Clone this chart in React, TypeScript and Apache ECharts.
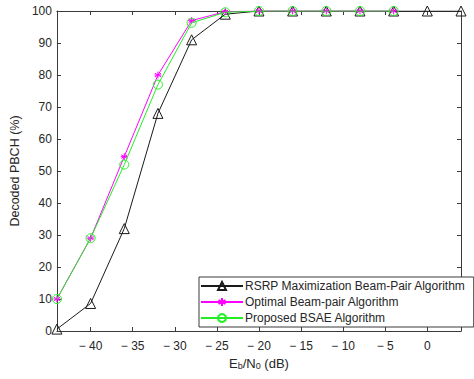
import React, { useEffect, useRef } from "react";
import * as echarts from "echarts";

const xValues = [-44, -40, -36, -32, -28, -24, -20, -16, -12, -8, -4, 0, 4];
const rsrpValues = [0.6, 8.6, 32, 68, 91, 99, 100, 100, 100, 100, 100, 100, 100];
const optimalValues = [10, 29, 54.5, 80, 97, 99.8, 100, 100, 100, 100, 100];
const proposedValues = [10, 29, 52, 77, 96.3, 99.6, 100, 100, 100, 100, 100];
const xTickValues = [-40, -35, -30, -25, -20, -15, -10, -5, 0];
const seriesNames = [
  "RSRP Maximization Beam-Pair Algorithm",
  "Optimal Beam-pair Algorithm",
  "Proposed BSAE Algorithm",
];

const FONT = "Liberation Sans, Arial, sans-serif";
const AXIS_COLOR = "#3a3a3a";
const TEXT_COLOR = "#262626";
const ASTERISK =
  "path://M0,-10 L0,10 M-8.66,-5 L8.66,5 M-8.66,5 L8.66,-5 M-10,0 L10,0";

function pairs(values: number[]) {
  return values.map((v, i) => [xValues[i], v]);
}

export default function App() {
  const ref = useRef<HTMLDivElement>(null);
  useEffect(() => {
    if (!ref.current) return;
    const chart = echarts.init(ref.current, undefined, { renderer: "svg" });
    const fmt = (v: number) => (v < 0 ? "\u2212 " + Math.abs(v) : String(v));
    const xCommon = {
      type: "value" as const,
      min: -44,
      max: 4,
      splitLine: { show: false },
      axisLine: { show: true, onZero: false, lineStyle: { color: AXIS_COLOR, width: 1 } },
      axisTick: {
        show: true,
        inside: true,
        length: 4,
        customValues: xTickValues,
        lineStyle: { color: AXIS_COLOR },
      },
    };
    const yCommon = {
      type: "value" as const,
      min: 0,
      max: 100,
      interval: 10,
      splitLine: { show: false },
      axisLine: { show: true, onZero: false, lineStyle: { color: AXIS_COLOR, width: 1 } },
      axisTick: { show: true, inside: true, length: 4, lineStyle: { color: AXIS_COLOR } },
    };
    chart.setOption({
      animation: false,
      backgroundColor: "#fff",
      textStyle: { fontFamily: FONT },
      grid: { left: 51, right: 13, top: 11, bottom: 48, containLabel: false },
      xAxis: [
        {
          ...xCommon,
          position: "bottom",
          axisLabel: {
            show: true,
            customValues: xTickValues,
            formatter: fmt,
            color: TEXT_COLOR,
            fontSize: 12,
            fontFamily: FONT,
            margin: 9,
          },
          name: "{n|E}{s|b}{n|/N}{s|0}{n| (dB)}",
          nameLocation: "middle",
          nameGap: 24,
          nameTextStyle: {
            color: TEXT_COLOR,
            fontFamily: FONT,
            rich: {
              n: { fontSize: 13, fontFamily: FONT, color: TEXT_COLOR },
              s: {
                fontSize: 9,
                fontFamily: FONT,
                color: TEXT_COLOR,
                verticalAlign: "bottom",
                padding: [6, 0, 0, 0],
              },
            },
          },
        },
        {
          ...xCommon,
          position: "top",
          axisLabel: { show: false },
        },
      ],
      yAxis: [
        {
          ...yCommon,
          position: "left",
          axisLabel: {
            show: true,
            color: TEXT_COLOR,
            fontSize: 12,
            fontFamily: FONT,
            margin: 5,
          },
          name: "Decoded PBCH (%)",
          nameLocation: "middle",
          nameGap: 29,
          nameRotate: 90,
          nameTextStyle: { color: TEXT_COLOR, fontSize: 12.5, fontFamily: FONT },
        },
        {
          ...yCommon,
          position: "right",
          axisLabel: { show: false },
        },
      ],
      legend: {
        orient: "vertical",
        left: 199,
        top: 277,
        backgroundColor: "#fff",
        borderColor: AXIS_COLOR,
        borderWidth: 1,
        borderRadius: 0,
        padding: [3, 8, 3, 1],
        itemGap: 4,
        itemWidth: 42,
        itemHeight: 10,
        textStyle: { color: TEXT_COLOR, fontSize: 12, fontFamily: FONT, padding: [0, 0, 0, -3] },
        data: seriesNames,
      },
      series: [
        {
          name: seriesNames[0],
          type: "line",
          xAxisIndex: 0,
          yAxisIndex: 0,
          data: pairs(rsrpValues),
          symbol: "triangle",
          symbolSize: 10,
          lineStyle: { color: "#1a1a1a", width: 1 },
          itemStyle: { color: "transparent", borderColor: "#1a1a1a", borderWidth: 1 },
          z: 2,
        },
        {
          name: seriesNames[1],
          type: "line",
          xAxisIndex: 0,
          yAxisIndex: 0,
          data: pairs(optimalValues),
          symbol: ASTERISK,
          symbolSize: 7,
          lineStyle: { color: "#ff00ff", width: 1 },
          itemStyle: { color: "#ff00ff", borderColor: "#ff00ff", borderWidth: 1 },
          z: 3,
        },
        {
          name: seriesNames[2],
          type: "line",
          xAxisIndex: 0,
          yAxisIndex: 0,
          data: pairs(proposedValues),
          symbol: "circle",
          symbolSize: 9,
          lineStyle: { color: "#22ee22", width: 1 },
          itemStyle: { color: "transparent", borderColor: "#22ee22", borderWidth: 1 },
          z: 4,
        },
      ],
    });
    return () => chart.dispose();
  }, []);
  return (
    <div
      ref={ref}
      style={{ position: "fixed", left: 0, top: 0, width: 474, height: 379 }}
    />
  );
}
